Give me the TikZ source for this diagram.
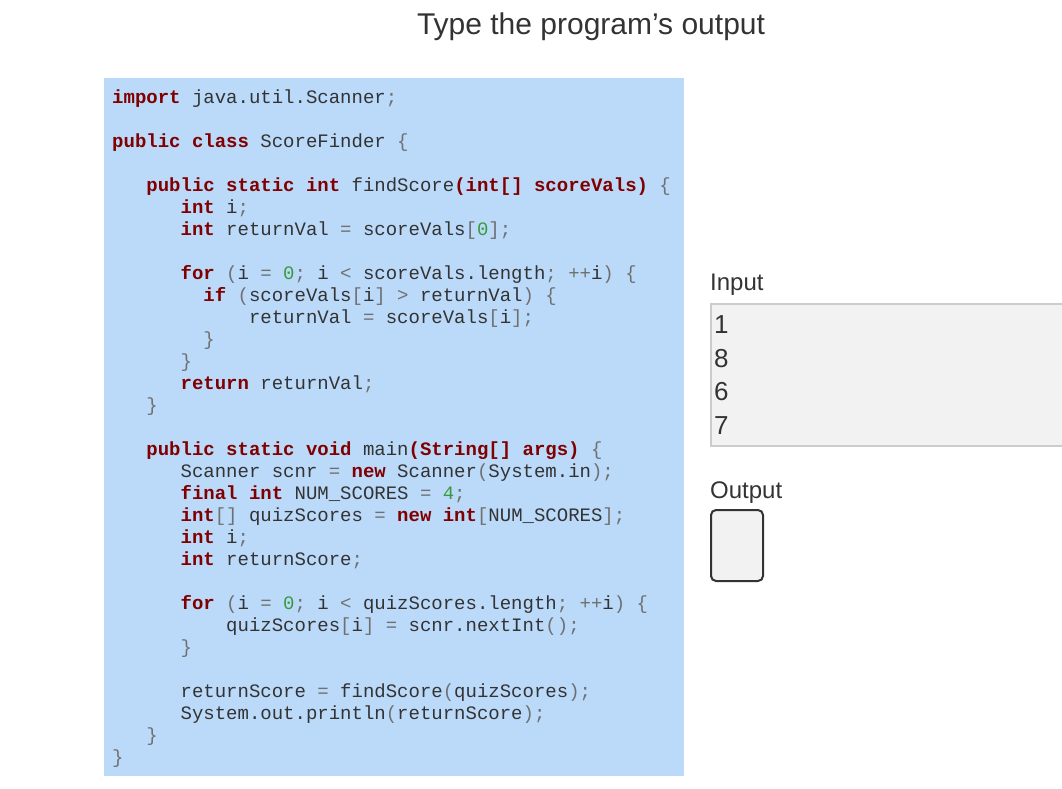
\documentclass[tikz,border=0pt]{standalone}
\usepackage{fontspec}
\setmonofont{Liberation Mono}
\setsansfont{Liberation Sans}
\usepackage{tikz}
\definecolor{codebg}{HTML}{BBDAFA}
\definecolor{kwred}{HTML}{800000}
\definecolor{pungray}{HTML}{707070}
\definecolor{numgreen}{HTML}{3A9A3A}
\definecolor{txtdark}{HTML}{333333}
\definecolor{boxfill}{HTML}{F2F2F2}
\newcommand{\kw}[1]{\textbf{\textcolor{kwred}{#1}}}
\newcommand{\pu}[1]{\textcolor{pungray}{#1}}
\newcommand{\nm}[1]{\textcolor{numgreen}{#1}}
\newcommand{\codeline}[4]{\node[codeln] (#1) at ({112+#3*11.4},{-(103+#2*22)}) {#4};}
\tikzset{
  codeln/.style = {anchor = base west, inner sep = 0pt, text = txtdark,
    font = \ttfamily\fontsize{19}{22}\selectfont},
  label/.style = {anchor = base west, inner sep = 0pt, text = txtdark,
    font = \sffamily\fontsize{24}{28}\selectfont},
  digit/.style = {anchor = base west, inner sep = 0pt, text = txtdark,
    font = \sffamily\fontsize{26}{30}\selectfont}
}
\begin{document}
\begin{tikzpicture}[x = 1pt, y = 1pt]
            \useasboundingbox (0,0) rectangle (1062,-788);

            % title
            \node[anchor = base, inner sep = 0pt, text = txtdark,
              font = \sffamily\fontsize{30}{34}\selectfont] (title)
              at (591,-34) {Type the program\symbol{39}s output};

            % code area
            \fill[codebg] (104,-78) rectangle (684,-776);

            \codeline{c0}{0}{0}{\kw{import} java.util.Scanner\pu{;}}
            \codeline{c2}{2}{0}{\kw{public class} ScoreFinder \pu{\{}}
            \codeline{c4}{4}{3}{\kw{public static int} findScore\kw{(int[] scoreVals)} \pu{\{}}
            \codeline{c5}{5}{6}{\kw{int} i\pu{;}}
            \codeline{c6}{6}{6}{\kw{int} returnVal \pu{=} scoreVals\pu{[}\nm{0}\pu{];}}
            \codeline{c8}{8}{6}{\kw{for} \pu{(}i \pu{=} \nm{0}\pu{;} i \pu{<} scoreVals.length\pu{;} \pu{++}i\pu{)} \pu{\{}}
            \codeline{c9}{9}{8}{\kw{if} \pu{(}scoreVals\pu{[}i\pu{]} \pu{>} returnVal\pu{)} \pu{\{}}
            \codeline{c10}{10}{12}{returnVal \pu{=} scoreVals\pu{[}i\pu{];}}
            \codeline{c11}{11}{8}{\pu{\}}}
            \codeline{c12}{12}{6}{\pu{\}}}
            \codeline{c13}{13}{6}{\kw{return} returnVal\pu{;}}
            \codeline{c14}{14}{3}{\pu{\}}}
            \codeline{c16}{16}{3}{\kw{public static void} main\kw{(String[] args)} \pu{\{}}
            \codeline{c17}{17}{6}{Scanner scnr \pu{=} \kw{new} Scanner\pu{(}System.in\pu{);}}
            \codeline{c18}{18}{6}{\kw{final int} NUM\_SCORES \pu{=} \nm{4}\pu{;}}
            \codeline{c19}{19}{6}{\kw{int}\pu{[]} quizScores \pu{=} \kw{new int}\pu{[}NUM\_SCORES\pu{];}}
            \codeline{c20}{20}{6}{\kw{int} i\pu{;}}
            \codeline{c21}{21}{6}{\kw{int} returnScore\pu{;}}
            \codeline{c23}{23}{6}{\kw{for} \pu{(}i \pu{=} \nm{0}\pu{;} i \pu{<} quizScores.length\pu{;} \pu{++}i\pu{)} \pu{\{}}
            \codeline{c24}{24}{10}{quizScores\pu{[}i\pu{]} \pu{=} scnr.nextInt\pu{();}}
            \codeline{c25}{25}{6}{\pu{\}}}
            \codeline{c27}{27}{6}{returnScore \pu{=} findScore\pu{(}quizScores\pu{);}}
            \codeline{c28}{28}{6}{System.out.println\pu{(}returnScore\pu{);}}
            \codeline{c29}{29}{3}{\pu{\}}}
            \codeline{c30}{30}{0}{\pu{\}}}

            % input
            \node[label] (inlabel) at (710,-290) {Input};
            \draw[fill = boxfill, draw = black!20, line width = 2.5pt]
              (711,-304) rectangle (1066,-446);
            \node[digit] (d1) at (714,-333) {1};
            \node[digit] (d2) at (714,-367) {8};
            \node[digit] (d3) at (714,-400) {6};
            \node[digit] (d4) at (714,-434) {7};

            % output
            \node[label] (outlabel) at (710,-498) {Output};
            \draw[fill = boxfill, draw = txtdark, line width = 2pt, rounded corners = 5pt]
              (711,-510) rectangle (763,-581);
        \end{tikzpicture}
\end{document}
